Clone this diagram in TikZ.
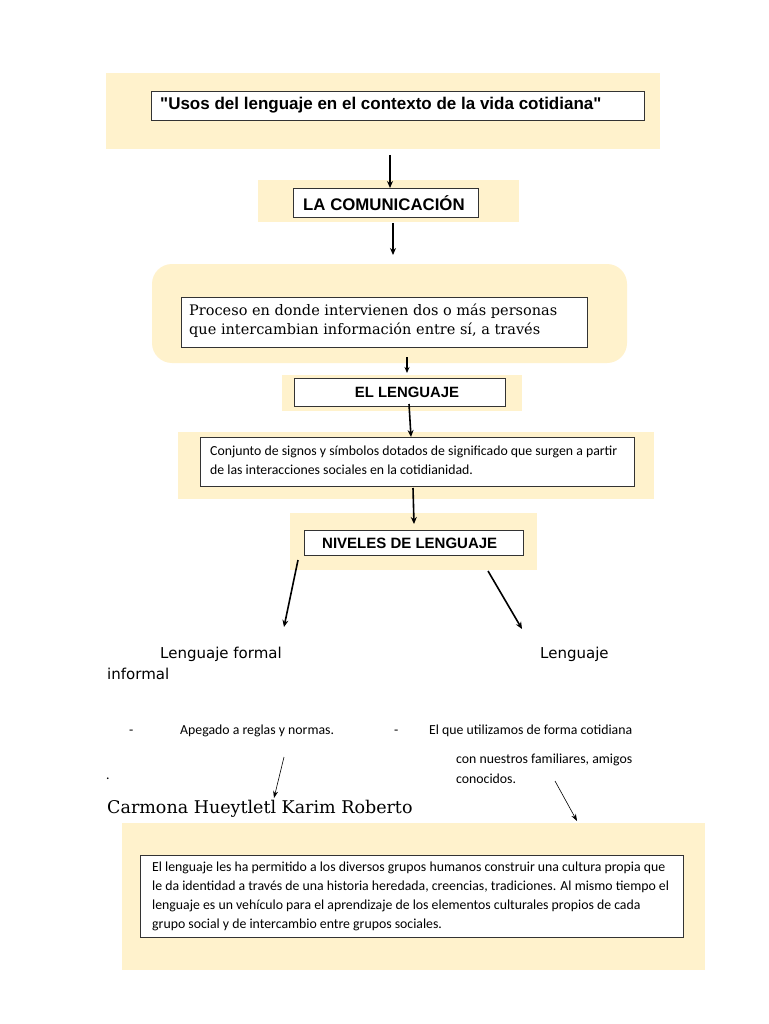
\documentclass[tikz,border=0pt]{standalone}
\usepackage{fontspec}
\setmainfont{Liberation Sans}
\newfontfamily\qfont{Liberation Sans}[Ligatures=ResetAll]
\newfontfamily\serifc{DejaVu Serif}
\newfontfamily\cali{Carlito}
\newfontfamily\dvs{DejaVu Sans}
\usetikzlibrary{arrows.meta}
\definecolor{cream}{HTML}{FFF2CC}
\begin{document}
\begin{tikzpicture}[x=1pt,y=-1pt,
  back/.style={fill=cream,draw=none},
  box/.style={draw=black!80,line width=0.8pt,fill=white},
  txt/.style={inner sep=0pt,anchor=west},
  arr/.style={-{Stealth[length=7pt,width=6pt]},line width=1.6pt},
  thinarr/.style={-{Stealth[length=7pt,width=5pt]},line width=0.6pt}]
\useasboundingbox (0,0) rectangle (768,1024);
\fill[white] (0,0) rectangle (768,1024);
% title
\fill[back] (106,73) rectangle (660,149);
\draw[box] (151,91) rectangle (644,120);
\node[txt,font=\qfont\bfseries\fontsize{17}{20}\selectfont] (title) at (160,105.5) {"Usos del lenguaje en el contexto de la vida cotidiana"};
% comunicacion
\fill[back] (258,180) rectangle (519,222);
\draw[box] (293,188) rectangle (478,217);
\node[txt,font=\bfseries\fontsize{16.8}{19}\selectfont] (com) at (303,203) {LA COMUNICACIÓN};
% proceso
\fill[back,rounded corners=20pt] (152,264) rectangle (627,363);
\draw[box] (181,297) rectangle (587,347);
\node[txt,font=\serifc\fontsize{14.5}{19}\selectfont,align=left] (proc) at (189,321) {Proceso en donde intervienen dos o más personas\\que intercambian información entre sí, a través};
% el lenguaje
\fill[back] (282,375) rectangle (522,411);
\draw[box] (294,378) rectangle (505,406);
\node[inner sep=0pt,font=\bfseries\fontsize{14.9}{17}\selectfont] (len) at (407,392) {EL LENGUAJE};
% conjunto
\fill[back] (178,432) rectangle (654,499);
\draw[box] (200,437) rectangle (634,486);
\node[txt,font=\cali\fontsize{13.8}{19}\selectfont,align=left] (conj) at (210,460) {Conjunto de signos y símbolos dotados de significado que surgen a partir\\de las interacciones sociales en la cotidianidad.};
% niveles
\fill[back] (290,513) rectangle (537,570);
\draw[box] (304,530) rectangle (523,555);
\node[txt,font=\bfseries\fontsize{15}{17}\selectfont] (niv) at (322,543) {NIVELES DE LENGUAJE};
% arrows main
\coordinate (a1s) at (390,155); \coordinate (a1e) at (390,188);
\coordinate (a2s) at (393,223); \coordinate (a2e) at (393,255);
\coordinate (a3s) at (407,357); \coordinate (a3e) at (407,373);
\coordinate (a4s) at (409,404); \coordinate (a4e) at (411,437);
\coordinate (a5s) at (413,488); \coordinate (a5e) at (414,524);
\coordinate (a6s) at (298,560); \coordinate (a6e) at (284,627);
\coordinate (a7s) at (488,571); \coordinate (a7e) at (522,629);
\draw[arr] (a1s) -- (a1e);
\draw[arr] (a2s) -- (a2e);
\draw[-{Stealth[length=6pt,width=5pt]},line width=1.2pt] (a3s) -- (a3e);
\draw[arr] (a4s) -- (a4e);
\draw[arr] (a5s) -- (a5e);
\draw[arr] (a6s) -- (a6e);
\draw[arr] (a7s) -- (a7e);
% levels text
\node[txt,font=\dvs\fontsize{15}{17}\selectfont] (lf) at (160,654) {Lenguaje formal};
\node[txt,font=\dvs\fontsize{15}{17}\selectfont] (li) at (540,654) {Lenguaje};
\node[txt,font=\dvs\fontsize{15}{17}\selectfont] (inf) at (107,674) {informal};
\node[txt,font=\cali\fontsize{13.8}{15}\selectfont] (d1) at (129,732) {-};
\node[txt,font=\cali\fontsize{13.8}{15}\selectfont] (apeg) at (180,731) {Apegado a reglas y normas.};
\node[txt,font=\cali\fontsize{13.8}{15}\selectfont] (d2) at (394,732) {-};
\node[txt,font=\cali\fontsize{13.8}{15}\selectfont] (elq) at (429,731) {El que utilizamos de forma cotidiana};
\node[txt,font=\cali\fontsize{13.8}{15}\selectfont] (con1) at (456,760) {con nuestros familiares, amigos};
\node[txt,font=\cali\fontsize{13.8}{15}\selectfont] (con2) at (456,779) {conocidos.};
\node[txt,font=\cali\fontsize{13.8}{15}\selectfont] (dot) at (106,779) {.};
\node[txt,font=\serifc\fontsize{17.5}{20}\selectfont] (name) at (107,809) {Carmona Hueytletl Karim Roberto};
\coordinate (b1s) at (284,757); \coordinate (b1e) at (274,798);
\coordinate (b2s) at (555,781); \coordinate (b2e) at (577,821);
\draw[thinarr] (b1s) -- (b1e);
\draw[thinarr] (b2s) -- (b2e);
% bottom
\fill[back] (122,823) rectangle (705,970);
\draw[box] (140,855) rectangle (683,937);
\node[txt,font=\cali\fontsize{13.8}{19}\selectfont,align=left] (fin) at (152,896) {El lenguaje les ha permitido a los diversos grupos humanos construir una cultura propia que\\le da identidad a través de una historia heredada, creencias, tradiciones. Al mismo tiempo el\\lenguaje es un vehículo para el aprendizaje de los elementos culturales propios de cada\\grupo social y de intercambio entre grupos sociales.};
\end{tikzpicture}
\end{document}
